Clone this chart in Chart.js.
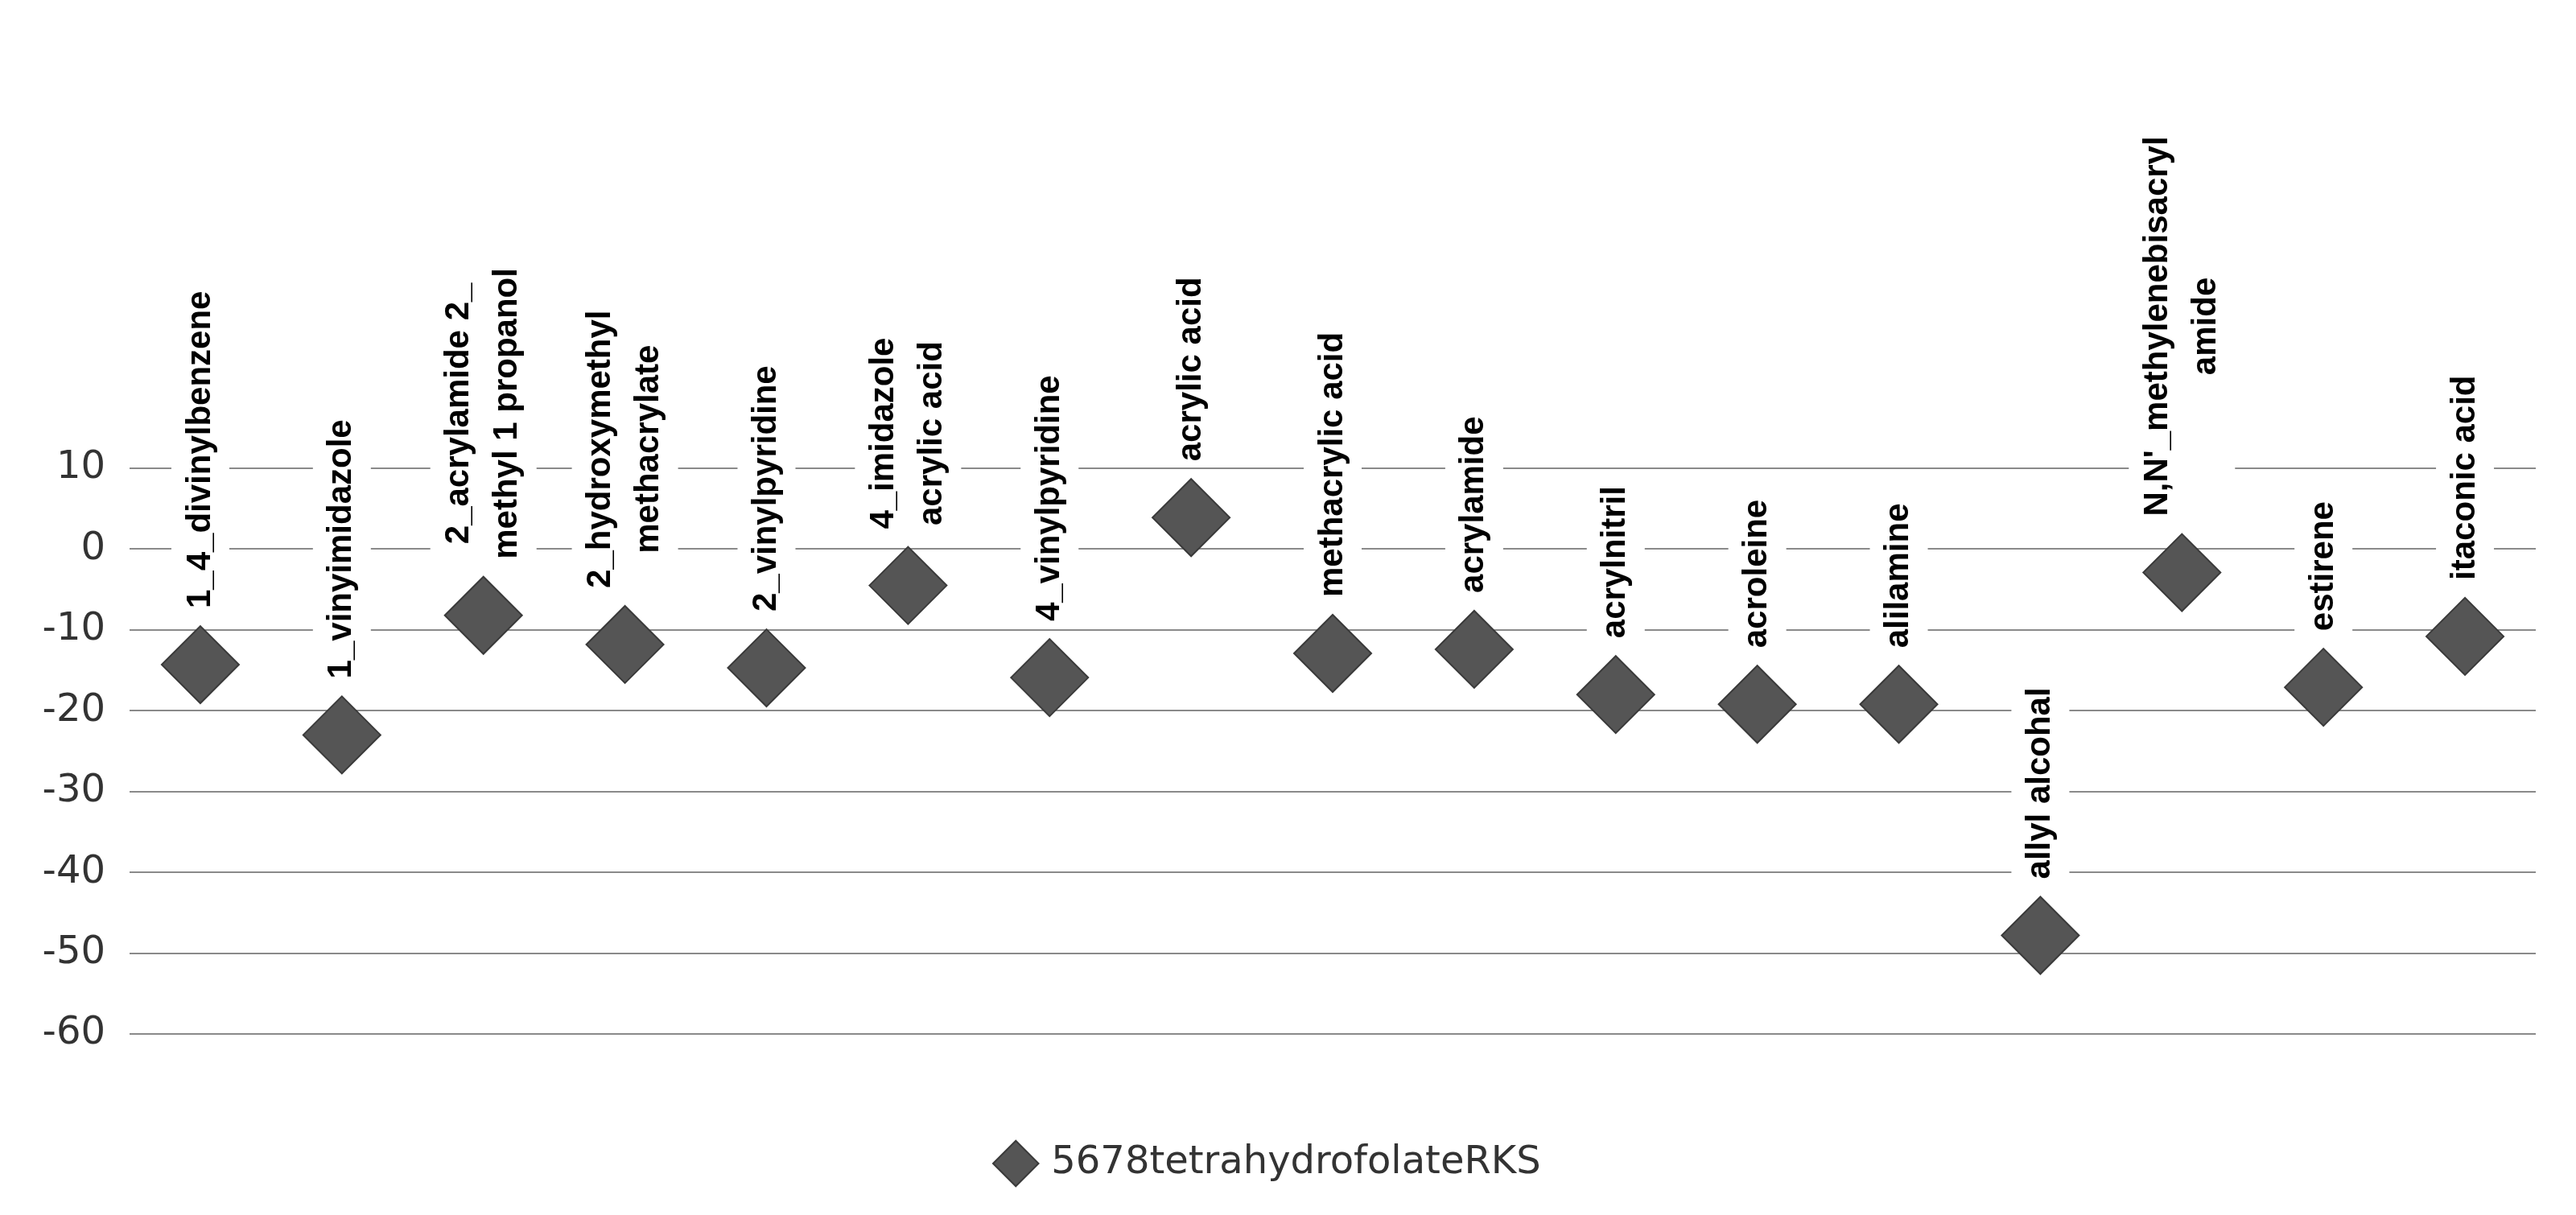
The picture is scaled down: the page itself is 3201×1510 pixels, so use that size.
<!DOCTYPE html>
<html>
<head>
<meta charset="utf-8">
<script src="https://cdn.jsdelivr.net/npm/chart.js@4"></script>
<style>
  body { margin: 0; background: #fff; }
  #wrap { width: 3201px; height: 1510px; }
</style>
</head>
<body>
<div id="wrap"><canvas id="chart"></canvas></div>
<script>
// compound names, one entry per label line
const compounds = [
  ["1_4_divinylbenzene"], ["1_vinyimidazole"], ["2_acrylamide 2_", "methyl 1 propanol"],
  ["2_hydroxymethyl", "methacrylate"], ["2_vinylpyridine"], ["4_imidazole", "acrylic acid"],
  ["4_vinylpyridine"], ["acrylic acid"], ["methacrylic acid"], ["acrylamide"],
  ["acrylnitril"], ["acroleine"], ["alilamine"], ["allyl alcohal"],
  ["N,N'_methylenebisacryl", "amide"], ["estirene"], ["itaconic acid"]
];
const scores = [-14.3, -23, -8.2, -11.8, -14.7, -4.5, -15.9, 3.9, -12.9, -12.4,
  -18, -19.2, -19.2, -47.8, -2.9, -17.1, -10.8];
const yTicks = [10, 0, -10, -20, -30, -40, -50, -60];

// vertical labels with white backgrounds above each point
const pointLabels = {
  id: 'pointLabels',
  afterDatasetsDraw(chart) {
    const ctx = chart.ctx;
    const meta = chart.getDatasetMeta(0);
    ctx.save();
    ctx.font = 'bold 42px "Liberation Sans", Arial, sans-serif';
    meta.data.forEach((pt, i) => {
      const lines = compounds[i];
      const lh = 60;
      const w = Math.max(...lines.map(l => ctx.measureText(l).width));
      ctx.save();
      ctx.translate(pt.x, pt.y - 70);
      ctx.rotate(-Math.PI / 2);
      // rotated frame: +x goes up the page, +y goes right
      const h = lines.length * lh;
      ctx.fillStyle = '#fff';
      ctx.fillRect(-6, -h / 2 - 6, w + 12, h + 12);
      ctx.fillStyle = '#000';
      ctx.textBaseline = 'middle';
      ctx.textAlign = 'center';
      lines.forEach((l, k) => {
        ctx.fillText(l, w / 2, -h / 2 + lh * (k + 0.5));
      });
      ctx.restore();
    });
    ctx.restore();
  }
};

new Chart(document.getElementById('chart'), {
  type: 'line',
  data: {
    labels: compounds.map(c => c.join(' ')),
    datasets: [{
      label: '5678tetrahydrofolateRKS',
      data: scores,
      showLine: false,
      pointStyle: 'rectRot',
      pointRadius: 48,
      pointHoverRadius: 48,
      backgroundColor: '#555555',
      borderColor: '#3a3a3a',
      borderWidth: 2
    }]
  },
  options: {
    responsive: true,
    maintainAspectRatio: false,
    animation: false,
    layout: { padding: { top: 582, right: 44, bottom: 30, left: 0 } },
    plugins: {
      legend: {
        position: 'bottom',
        labels: {
          usePointStyle: true,
          pointStyle: 'rectRot',
          boxWidth: 40,
          boxHeight: 40,
          padding: 20,
          color: '#333',
          font: { size: 48, family: '"DejaVu Sans", sans-serif' }
        }
      },
      tooltip: { enabled: false }
    },
    scales: {
      x: {
        offset: true,
        ticks: { display: false },
        grid: { display: false, drawTicks: false },
        border: { display: false },
        afterFit(scale) { scale.height = 117; }
      },
      y: {
        min: -60,
        max: 10,
        afterBuildTicks(scale) { scale.ticks = yTicks.map(v => ({ value: v })); },
        afterFit(scale) { scale.width = 161; },
        ticks: {
          color: '#333',
          padding: 30,
          font: { size: 48, family: '"DejaVu Sans", sans-serif' }
        },
        grid: { color: '#8a8a8a', lineWidth: 2, drawTicks: false },
        border: { display: false }
      }
    }
  },
  plugins: [pointLabels]
});
</script>
</body>
</html>
